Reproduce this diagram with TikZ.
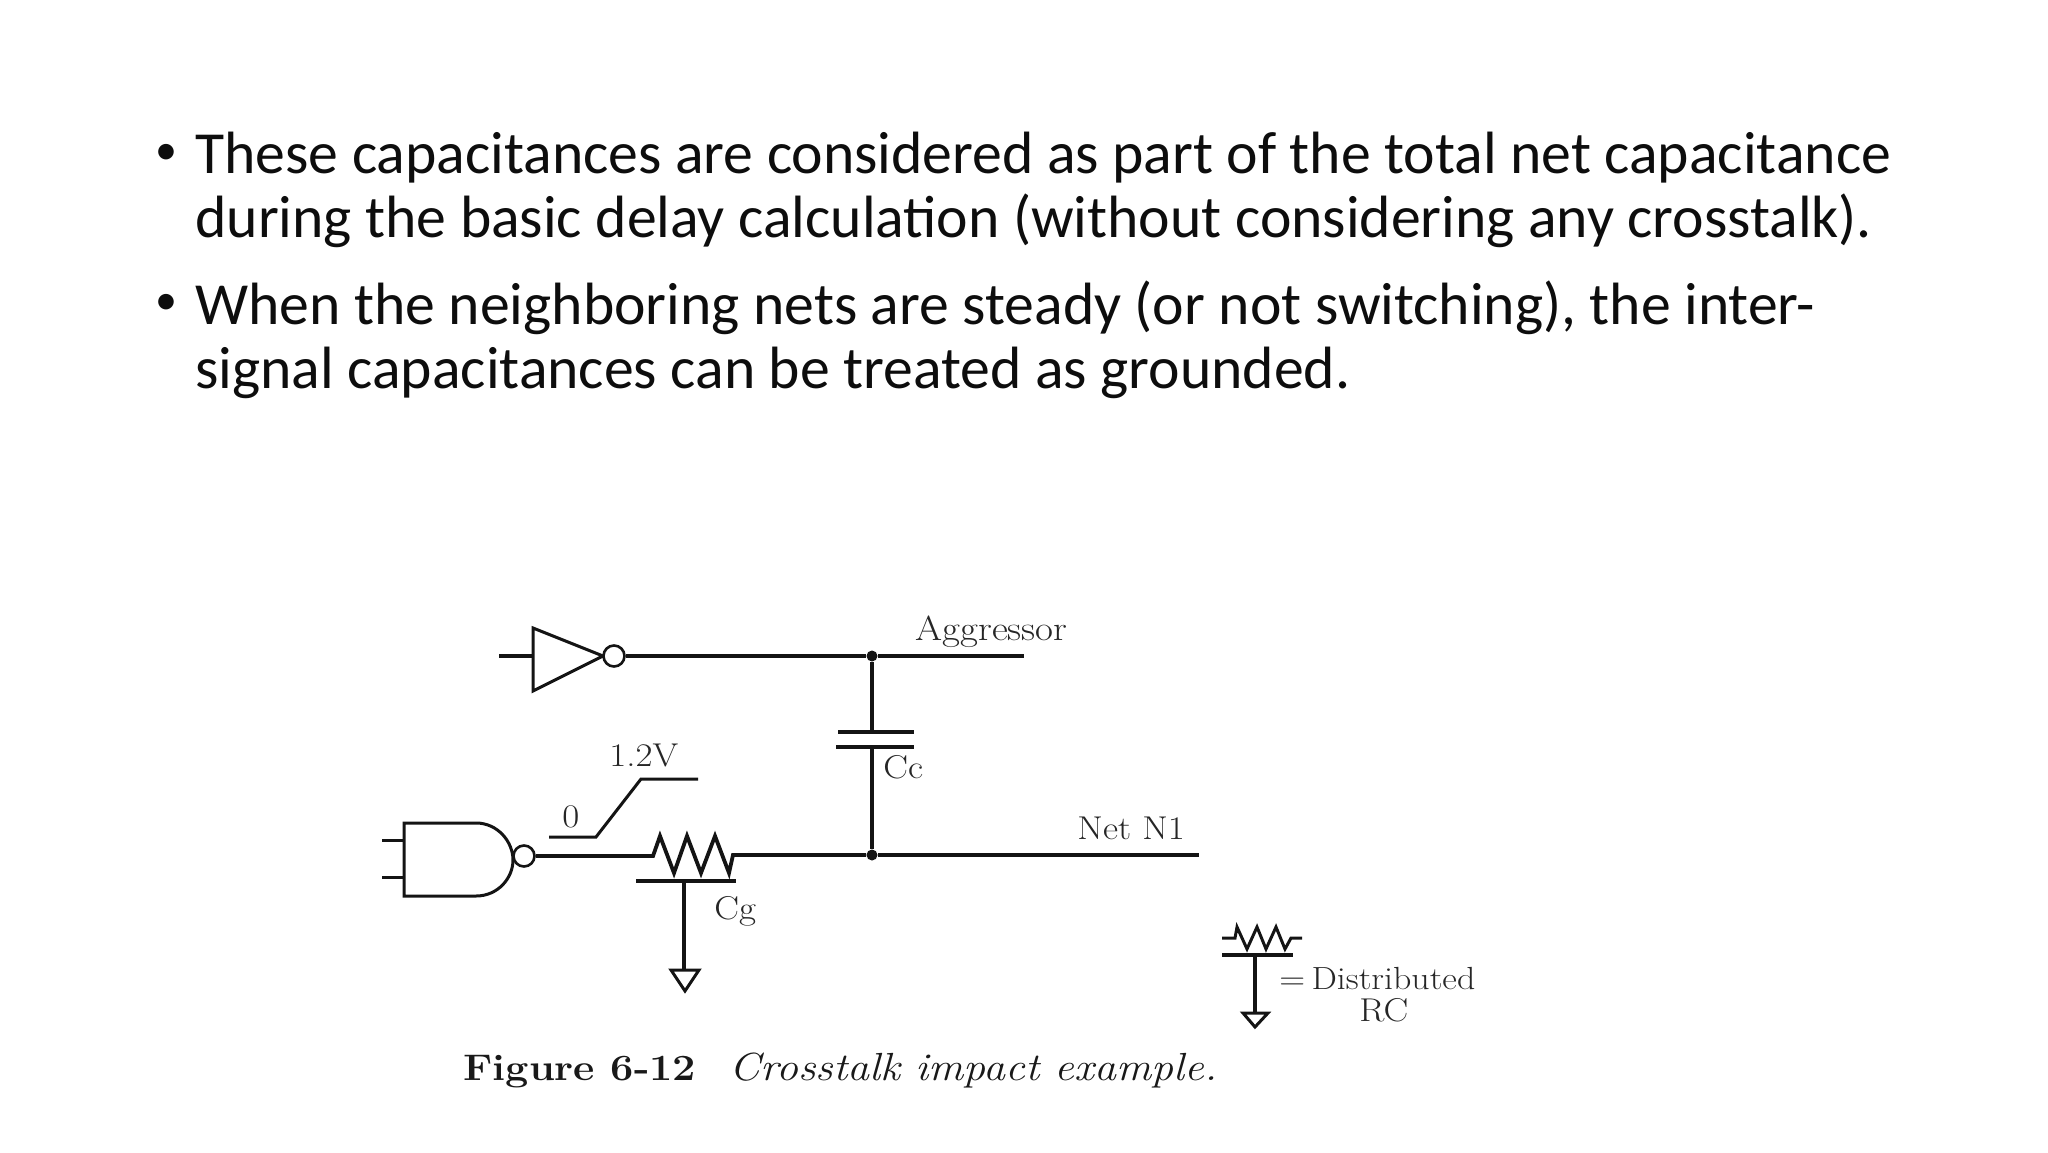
\documentclass[tikz,border=0pt]{standalone}
\usepackage{fontspec}
\setmainfont[FakeStretch=1.12]{Latin Modern Roman}
\newfontfamily\bodyfont{Carlito}
\tikzset{
  wire/.style={line width=1.9pt,black!92,line cap=butt,line join=miter},
  thin wire/.style={line width=1.5pt,black!92,line join=miter},
  bubble/.style={circle,draw=black!92,line width=1.3pt,fill=white,inner sep=0pt,minimum size=10.5pt},
  junction/.style={circle,fill=black!92,inner sep=0pt,minimum size=5.5pt},
  para/.style={anchor=north west,inner sep=0pt,align=left,text=black!95,font=\bodyfont\fontsize{29.84}{32}\selectfont},
  dotmark/.style={anchor=base west,inner sep=0pt,text=black!95,font=\bodyfont\fontsize{22}{24}\selectfont},
  lab/.style={anchor=base west,inner sep=0pt,text=black!85,font=\fontsize{16.5}{18}\selectfont},
  captext/.style={anchor=base west,inner sep=0pt,text=black!90},
}
\begin{document}
\begin{tikzpicture}[x=0.5pt,y=-0.5pt]
\useasboundingbox (0,0) rectangle (2048,1152);
\fill[white] (0,0) rectangle (2048,1152);
% bullet text
\node[dotmark] (b1) at (155,164) {•};
\node[para] (p1) at (195,132) {These capacitances are considered as part of the total net capacitance\\during the basic delay calculation (without considering any crosstalk).};
\node[dotmark] (b2) at (155,314) {•};
\node[para] (p2) at (195,280) {When the neighboring nets are steady (or not switching), the inter-\\signal capacitances can be treated as grounded.};
% inverter
\coordinate (invT) at (533,628);
\coordinate (invB) at (533,691);
\coordinate (invTip) at (603,656);
\coordinate (invIn) at (499,656);
\coordinate (invL) at (533,656);
\draw[thin wire] (invT) -- (invTip) -- (invB) -- cycle;
\draw[wire] (invIn) -- (invL);
\node[bubble] (invBub) at (614,656) {};
\coordinate (aggEnd) at (1024,656);
\node[junction] (jA) at (872,656) {};
\draw[wire] (invBub) -- (jA) -- (aggEnd);
% coupling cap
\coordinate (cT1) at (838,732); \coordinate (cT2) at (914,732);
\coordinate (cB1) at (836,747); \coordinate (cB2) at (914,747);
\coordinate (cTm) at (872,732); \coordinate (cBm) at (872,747);
\draw[wire] (cT1) -- (cT2);
\draw[wire] (cB1) -- (cB2);
\node[junction] (jB) at (872,855) {};
\draw[wire] (jA) -- (cTm);
\draw[wire] (cBm) -- (jB);
% NAND
\coordinate (nA) at (476,823); \coordinate (nB) at (404,823);
\coordinate (nC) at (404,896); \coordinate (nD) at (476,896);
\coordinate (nTip) at (513,860);
\draw[thin wire] (nA) -- (nB) -- (nC) -- (nD) .. controls (498,896) and (513,878) .. (nTip) .. controls (513,842) and (498,823) .. (nA);
\coordinate (in1a) at (382,840); \coordinate (in1b) at (404,840);
\coordinate (in2a) at (382,877); \coordinate (in2b) at (404,877);
\draw[thin wire] (in1a) -- (in1b);
\draw[thin wire] (in2a) -- (in2b);
\node[bubble] (nBub) at (524,856) {};
% resistor
\coordinate (rL) at (653,856);
\coordinate (rR) at (733,855);
\draw[wire] (nBub) -- (rL) -- (660,836) -- (674,873) -- (687,836) -- (701,873) -- (715,836) -- (729,873) -- (rR) -- (jB);
\coordinate (netEnd) at (1199,855);
\draw[wire] (jB) -- (netEnd);
% Cg
\coordinate (gL) at (636,881); \coordinate (gR) at (736,881); \coordinate (gM) at (684,881);
\coordinate (gndT) at (684,970);
\coordinate (g1) at (671,970); \coordinate (g2) at (699,970); \coordinate (g3) at (685,991);
\draw[wire] (gL) -- (gR);
\draw[wire] (gM) -- (gndT);
\draw[thin wire] (g1) -- (g2) -- (g3) -- cycle;
% ramp
\coordinate (r0) at (549,837); \coordinate (r1) at (596,837);
\coordinate (r2) at (641,779); \coordinate (r3) at (698,779);
\draw[thin wire] (r0) -- (r1) -- (r2) -- (r3);
% legend
\coordinate (l0) at (1222,938); \coordinate (l9) at (1302,938);
\draw[thin wire] (l0) -- (1235,938) -- (1237,927) -- (1247,949) -- (1257,927) -- (1266,949) -- (1276,927) -- (1285,949) -- (1291,938) -- (l9);
\coordinate (lpL) at (1222,955); \coordinate (lpR) at (1293,955); \coordinate (lpM) at (1255,955);
\coordinate (lgT) at (1255,1013);
\coordinate (lg1) at (1243,1013); \coordinate (lg2) at (1268,1013); \coordinate (lg3) at (1255,1027);
\draw[wire] (lpL) -- (lpR);
\draw[wire] (lpM) -- (lgT);
\draw[thin wire] (lg1) -- (lg2) -- (lg3) -- cycle;
% labels
\node[lab,font=\fontsize{17.4}{18}\selectfont] (tAgg) at (915,640) {Aggressor};
\node[lab] (t12) at (609,766) {1.2V};
\node[lab] (t0) at (562,827) {0};
\node[lab] (tCc) at (883,778) {Cc};
\node[lab] (tCg) at (714,919) {Cg};
\node[lab] (tNet) at (1077,839) {Net N1};
\node[lab,font=\fontsize{16}{18}\selectfont] (tDist) at (1279,989) {= \hspace*{-2.2pt}Distributed};
\node[lab] (tRC) at (1359,1021) {RC};
\node[captext,font=\fontsize{18.5}{20}\selectfont\bfseries] (tFig) at (463,1080) {Figure 6-12};
\node[captext,font=\fontsize{19.6}{20}\selectfont\itshape] (tCap) at (729,1080) {Crosstalk impact example.};
\end{tikzpicture}
\end{document}
